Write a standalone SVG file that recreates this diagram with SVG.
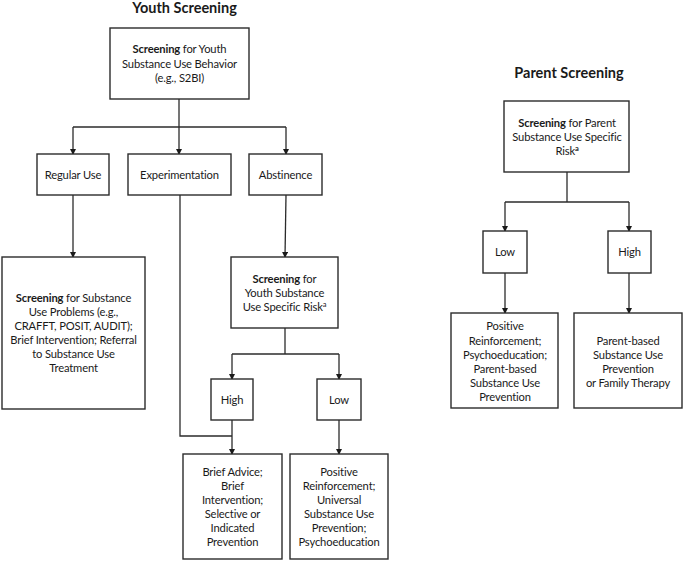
<svg xmlns="http://www.w3.org/2000/svg" width="685" height="561" viewBox="0 0 685 561">
<style>
.bg{fill:#fff}
.box{fill:#fff;stroke:#2b2b2b;stroke-width:1.4}
.ln{fill:none;stroke:#2b2b2b;stroke-width:1.3}
text{font-family:Lato,"Liberation Sans",sans-serif;font-size:11.2px;letter-spacing:-0.15px;fill:#1a1a1a;text-anchor:middle}
.title{font-size:14.5px;font-weight:bold;letter-spacing:0}
.b{font-weight:bold}
.sup{font-size:7.5px}
</style>
<defs>
<marker id="ah" markerWidth="6" markerHeight="6" refX="5" refY="3" orient="auto" markerUnits="userSpaceOnUse">
<path d="M0,0 L6,3 L0,6 Z" fill="#1a1a1a"/>
</marker>
</defs>
<rect class="bg" x="0" y="0" width="685" height="561"/>
<text class="title" x="184.5" y="12.5">Youth Screening</text>
<text class="title" x="569" y="78">Parent Screening</text>

<g id="connectors">
<path class="ln" d="M179,99 V127"/>
<path class="ln" d="M73,127 H286"/>
<path class="ln" d="M73,127 V154" marker-end="url(#ah)"/>
<path class="ln" d="M179,127 V154" marker-end="url(#ah)"/>
<path class="ln" d="M286,127 V154" marker-end="url(#ah)"/>
<path class="ln" d="M73,195 V257" marker-end="url(#ah)"/>
<path class="ln" d="M286,195 L285,257" marker-end="url(#ah)"/>
<path class="ln" d="M180,195 V436 H232"/>
<path class="ln" d="M285,328 V354"/>
<path class="ln" d="M232,354 H339"/>
<path class="ln" d="M232,354 V379" marker-end="url(#ah)"/>
<path class="ln" d="M339,354 V379" marker-end="url(#ah)"/>
<path class="ln" d="M232,420 V454" marker-end="url(#ah)"/>
<path class="ln" d="M339,420 V454" marker-end="url(#ah)"/>
<path class="ln" d="M567,172 V202"/>
<path class="ln" d="M505,202 H629"/>
<path class="ln" d="M505,202 V231" marker-end="url(#ah)"/>
<path class="ln" d="M629,202 V231" marker-end="url(#ah)"/>
<path class="ln" d="M505,273 V313" marker-end="url(#ah)"/>
<path class="ln" d="M629,273 V313" marker-end="url(#ah)"/>
</g>

<g id="youth-screen">
<rect class="box" x="110" y="28" width="139" height="71"/>
<text x="179.5" y="53"><tspan class="b">Screening</tspan> for Youth</text>
<text x="179.5" y="67.5">Substance Use Behavior</text>
<text x="179.5" y="82">(e.g., S2BI)</text>
</g>
<g id="regular-use">
<rect class="box" x="37" y="154" width="72" height="41"/>
<text x="73" y="178.5">Regular Use</text>
</g>
<g id="experimentation">
<rect class="box" x="128" y="154" width="103" height="41"/>
<text x="179.5" y="178.5">Experimentation</text>
</g>
<g id="abstinence">
<rect class="box" x="249" y="154" width="73" height="41"/>
<text x="285.5" y="178.5">Abstinence</text>
</g>
<g id="substance-problems">
<rect class="box" x="2" y="257" width="143" height="152"/>
<text x="73.5" y="302"><tspan class="b">Screening</tspan> for Substance</text>
<text x="73.5" y="316">Use Problems (e.g.,</text>
<text x="73.5" y="330">CRAFFT, POSIT, AUDIT);</text>
<text x="73.5" y="344">Brief Intervention; Referral</text>
<text x="73.5" y="358">to Substance Use</text>
<text x="73.5" y="372">Treatment</text>
</g>
<g id="youth-risk">
<rect class="box" x="231" y="257" width="107" height="71"/>
<text x="284.5" y="283"><tspan class="b">Screening</tspan> for</text>
<text x="284.5" y="297">Youth Substance</text>
<text x="284.5" y="311">Use Specific Risk<tspan class="sup" dy="-4">a</tspan></text>
</g>
<g id="youth-high">
<rect class="box" x="211" y="379" width="42" height="41"/>
<text x="232" y="403.5">High</text>
</g>
<g id="youth-low">
<rect class="box" x="317" y="379" width="44" height="41"/>
<text x="339" y="403.5">Low</text>
</g>
<g id="brief-advice">
<rect class="box" x="183" y="454" width="99" height="105"/>
<text x="232.5" y="475.5">Brief Advice;</text>
<text x="232.5" y="489.5">Brief</text>
<text x="232.5" y="503.5">Intervention;</text>
<text x="232.5" y="517.5">Selective or</text>
<text x="232.5" y="531.5">Indicated</text>
<text x="232.5" y="545.5">Prevention</text>
</g>
<g id="youth-positive">
<rect class="box" x="290" y="454" width="98" height="105"/>
<text x="339" y="475.5">Positive</text>
<text x="339" y="489.5">Reinforcement;</text>
<text x="339" y="503.5">Universal</text>
<text x="339" y="517.5">Substance Use</text>
<text x="339" y="531.5">Prevention;</text>
<text x="339" y="545.5">Psychoeducation</text>
</g>

<g id="parent-screen">
<rect class="box" x="504" y="101" width="125" height="71"/>
<text x="567" y="127"><tspan class="b">Screening</tspan> for Parent</text>
<text x="567" y="141">Substance Use Specific</text>
<text x="567" y="154.5">Risk<tspan class="sup b" dy="-4">a</tspan></text>
</g>
<g id="parent-low">
<rect class="box" x="483" y="231" width="44" height="42"/>
<text x="505" y="256">Low</text>
</g>
<g id="parent-high">
<rect class="box" x="608" y="231" width="43" height="42"/>
<text x="629.5" y="256">High</text>
</g>
<g id="parent-positive">
<rect class="box" x="451" y="313" width="107" height="95"/>
<text x="505" y="330">Positive</text>
<text x="505" y="344.5">Reinforcement;</text>
<text x="505" y="358.5">Psychoeducation;</text>
<text x="505" y="372.5">Parent-based</text>
<text x="505" y="386.5">Substance Use</text>
<text x="505" y="400.5">Prevention</text>
</g>
<g id="parent-family">
<rect class="box" x="574" y="313" width="108" height="95"/>
<text x="628" y="344.5">Parent-based</text>
<text x="628" y="358.5">Substance Use</text>
<text x="628" y="372.5">Prevention</text>
<text x="628" y="386.5">or Family Therapy</text>
</g>
</svg>
